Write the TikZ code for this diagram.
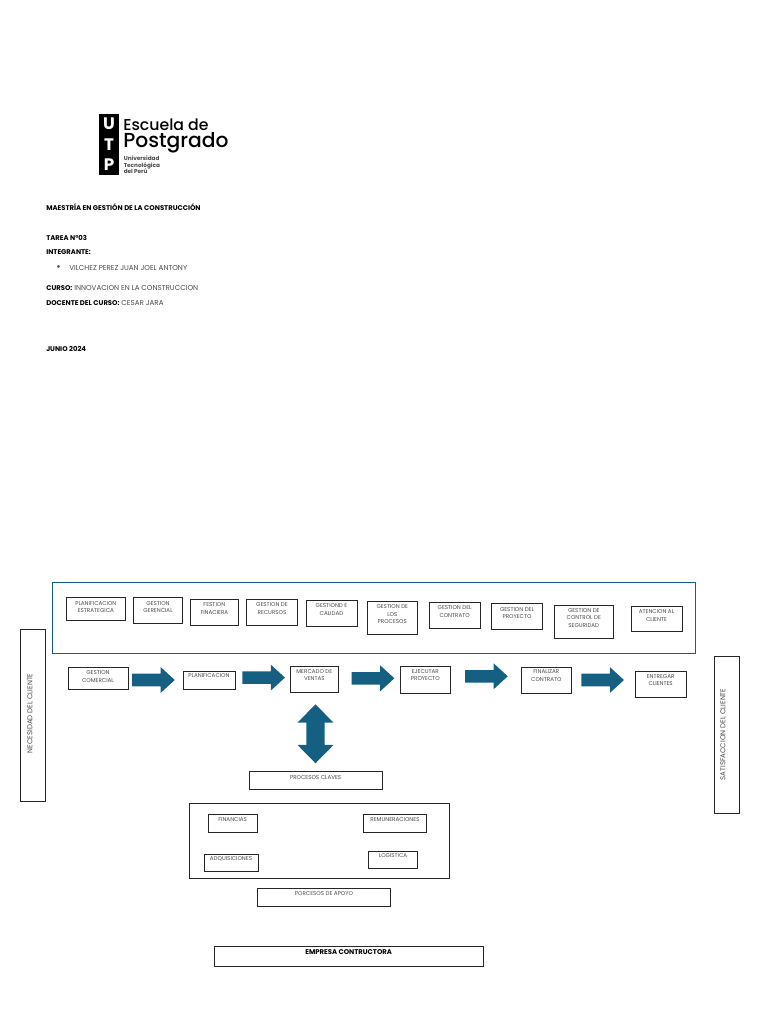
\documentclass[tikz,border=0pt]{standalone}
\usepackage{fontspec}
\setmainfont{Poppins}
\newfontfamily\logofont{Poppins Medium}
\usetikzlibrary{shapes.arrows}

\definecolor{azul}{HTML}{156082}
\definecolor{gris}{HTML}{4A4A4A}

\newcommand{\negra}[1]{{\fontsize{5.15pt}{6pt}\selectfont\bfseries\color{black}#1}}

\tikzset{
  x=0.75pt, y=-0.75pt,
  caja/.style={draw=black!85, line width=0.75pt, inner sep=0pt},
  marco/.style={caja, draw=azul},
  etiq/.style={font=\fontsize{4.2pt}{5.6pt}\selectfont, text=gris, align=center, inner sep=0pt},
  lateral/.style={etiq, font=\fontsize{5.3pt}{6pt}\selectfont, rotate=90},
  titulo/.style={font=\fontsize{5.35pt}{6pt}\selectfont, text=gris, anchor=west, inner sep=0pt},
  letra/.style={font=\fontsize{12.5pt}{12.5pt}\bfseries\selectfont, text=white, inner sep=0pt},
  flecha/.style={single arrow, fill=azul, inner xsep=0pt, inner ysep=4.5pt, minimum width=19pt, minimum height=32pt,
    single arrow head extend=5pt, single arrow tip angle=85},
}

% name, x1, y1, x2, y2, text shift, text
\newcommand{\caja}[7]{
  \node[caja, minimum width={(#4-#2)*0.75pt}, minimum height={(#5-#3)*0.75pt}] (#1) at ({(#2+#4)/2},{(#3+#5)/2}) {};
  \node[etiq, yshift=#6pt] (#1txt) at (#1.center) {#7};
}

\begin{document}
\begin{tikzpicture}
  \useasboundingbox (0,0) rectangle (768,1024);

  % logo
  \node[fill=black, minimum width=14.6pt, minimum height=46pt, inner sep=0pt] (logo) at (109,144.5) {};
  \node[letra] (logoU) at (109,124) {U};
  \node[letra] (logoT) at (109,144.5) {T};
  \node[letra] (logoP) at (109,165) {P};
  \node[font=\fontsize{11.8pt}{12pt}\logofont, anchor=west, inner sep=0pt] (escuela) at (123,125) {Escuela de};
  \node[font=\fontsize{15.2pt}{16pt}\logofont, anchor=west, inner sep=0pt] (postgrado) at (123,142.5) {Postgrado};
  \node[font=\fontsize{4.3pt}{5pt}\bfseries\selectfont, text=gris, align=left, anchor=north west, inner sep=0pt] (utp) at (123.5,155.5) {Universidad\\Tecnológica\\del Perú};

  % portada
  \node[titulo] (maestria) at (46,207.5) {\negra{MAESTRÍA EN GESTIÓN DE LA CONSTRUCCIÓN}};
  \node[titulo] (tarea) at (46,237.5) {\negra{TAREA N°03}};
  \node[titulo] (integrante) at (46,252.5) {\negra{INTEGRANTE:}};
  \node[titulo, font=\fontsize{8pt}{8pt}\selectfont] (vineta) at (56,268) {•};
  \node[titulo] (vilchez) at (69,268) {VILCHEZ PEREZ JUAN JOEL ANTONY};
  \node[titulo] (curso) at (46,288) {\negra{CURSO:} INNOVACION EN LA CONSTRUCCION};
  \node[titulo] (docente) at (46,303) {\negra{DOCENTE DEL CURSO:} CESAR JARA};
  \node[titulo] (junio) at (46,349) {\negra{JUNIO 2024}};

  % procesos estrategicos
  \node[marco, minimum width={643*0.75pt}, minimum height={71.3*0.75pt}] (estrategicos) at (374.2,618.3) {};
  \caja{planest}{66}{597.7}{125.7}{620.3}{1.3}{PLANIFICACION\\ESTRATEGICA}
  \caja{gerencial}{133.3}{597.7}{182.7}{623.3}{2.5}{GESTION\\GERENCIAL}
  \caja{financiera}{190}{599.7}{238.7}{625.7}{3.1}{FESTION\\FINACIERA}
  \caja{recursos}{246.7}{599.7}{297.3}{625.3}{2.8}{GESTION DE\\RECURSOS}
  \caja{calidad}{306}{600.3}{357}{626.7}{3.1}{GESTIOND E\\CALIDAD}
  \caja{gprocesos}{367.3}{601}{417.3}{634.3}{2.5}{GESTION DE\\LOS\\PROCESOS}
  \caja{contrato}{429.3}{602.7}{480}{628.3}{2.9}{GESTION DEL\\CONTRATO}
  \caja{proyecto}{491.7}{603.3}{542.3}{629.3}{2.3}{GESTION DEL\\PROYECTO}
  \caja{seguridad}{554.3}{605}{613.3}{638.3}{2.8}{GESTION DE\\CONTROL DE\\SEGURIDAD}
  \caja{atencion}{631}{606}{682}{631.7}{2.6}{ATENCION AL\\CLIENTE}

  % cadena de valor
  \caja{comercial}{68}{667.7}{128}{689}{1.2}{GESTION\\COMERCIAL}
  \caja{planif}{183}{671.3}{235}{689}{3.1}{PLANIFICACION}
  \caja{mercado}{290}{666.3}{338.7}{692}{2.9}{MERCADO DE\\VENTAS}
  \caja{ejecutar}{400}{666.3}{450.7}{693}{3.3}{EJECUTAR\\PROYECTO}
  \caja{finalizar}{521}{667.3}{571.7}{693}{3.3}{FINALIZAR\\CONTRATO}
  \caja{entregar}{635.3}{671.3}{686}{697}{3}{ENTREGAR\\CLIENTES}

  \node[flecha] (flechaA) at (150,680) {};
  \node[flecha] (flechaB) at (260.2,677.6) {};
  \node[flecha] (flechaC) at (369.6,678.3) {};
  \node[flecha] (flechaD) at (483,676.3) {};
  \node[flecha] (flechaE) at (599.2,680) {};

  \node[double arrow, fill=azul, inner xsep=0pt, inner ysep=6.6pt, minimum width=26.7pt, minimum height=44.2pt,
    double arrow head extend=6.7pt, double arrow tip angle=89, rotate=90] (flechaV) at (315.5,733.8) {};

  % procesos claves y de apoyo
  \caja{claves}{249.3}{771.3}{382}{789.7}{2.6}{PROCESOS CLAVES}
  \node[caja, minimum width={259.7*0.75pt}, minimum height={75*0.75pt}] (apoyo) at (319.8,841.2) {};
  \caja{financias}{208.3}{814.7}{257}{832.3}{3.1}{FINANCIAS}
  \caja{remun}{363.7}{814.7}{426.3}{832.3}{3.1}{REMUNERACIONES}
  \caja{adquis}{204}{854}{258}{871.7}{2.9}{ADQUISICIONES}
  \caja{logistica}{368.3}{851.3}{417.7}{868.7}{3.2}{LOGISTICA}
  \caja{porcesos}{257.7}{888.7}{390.3}{906.7}{2.8}{PORCESOS DE APOYO}
  \caja{empresa}{214.3}{946}{483}{966.3}{2.9}{\negra{EMPRESA CONTRUCTORA}}

  % cliente
  \node[caja, minimum width={25*0.75pt}, minimum height={172*0.75pt}] (necesidad) at (32.5,715) {};
  \node[lateral] (necesidadtxt) at (30,713.5) {NECESIDAD DEL CLIENTE};
  \node[caja, minimum width={25*0.75pt}, minimum height={157*0.75pt}] (satisfaccion) at (726.5,734.5) {};
  \node[lateral] (satisfacciontxt) at (723,734.5) {SATISFACCION DEL CLIENTE};
\end{tikzpicture}
\end{document}
